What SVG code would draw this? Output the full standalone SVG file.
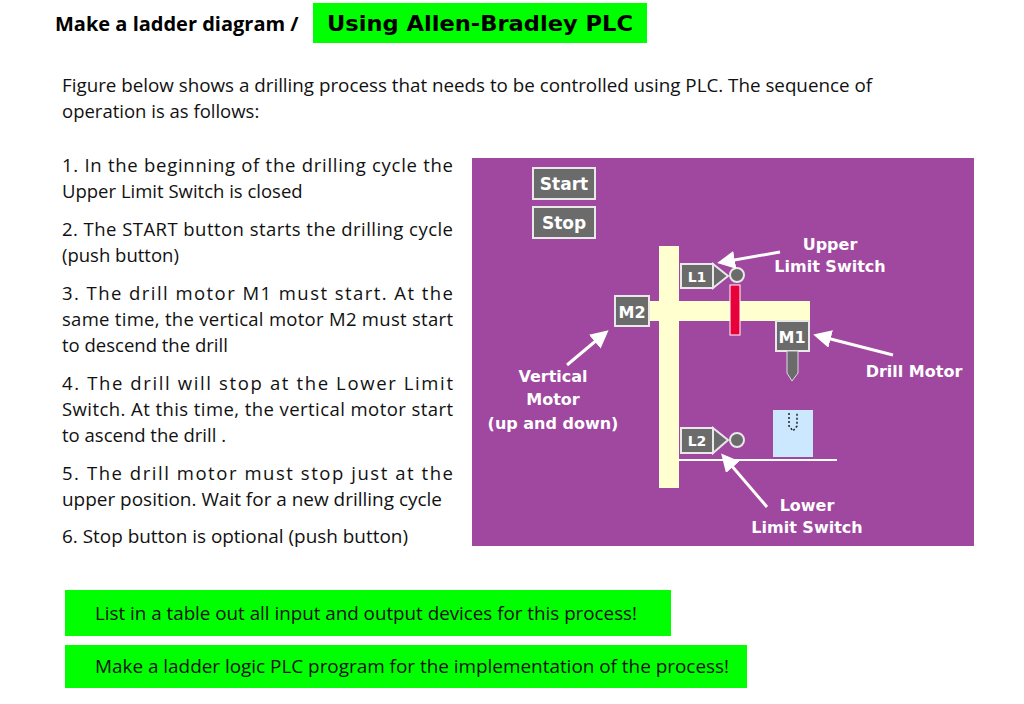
<svg xmlns="http://www.w3.org/2000/svg" width="1024" height="704" viewBox="0 0 1024 704">
<style>
.t{font-family:"Open Sans","Liberation Sans",sans-serif;font-size:18.5px;fill:#111}
.w{font-family:"DejaVu Sans",sans-serif;font-weight:bold;font-size:16px;fill:#fff;text-anchor:middle}
.gb{fill:#6b6b6b;stroke:#e8e8e8;stroke-width:2}
.bar{fill:#ffffd0}
.ar{stroke:#fff;stroke-width:3;fill:none;marker-end:url(#ah)}
</style>
<defs><marker id="ah" markerWidth="6" markerHeight="6" refX="4" refY="3" orient="auto"><path d="M0,0 L6,3 L0,6 z" fill="#fff"/></marker></defs>
<rect width="1024" height="704" fill="#fff"/>
<g id="title">
<text x="55" y="31" style="font-family:'Open Sans',sans-serif;font-weight:bold;font-size:20px">Make a ladder diagram /</text>
<rect x="313" y="3" width="334" height="40" fill="#00ff00"/>
<text x="327" y="31" textLength="306" lengthAdjust="spacingAndGlyphs" style="font-family:'DejaVu Sans',sans-serif;font-weight:bold;font-size:21px">Using Allen-Bradley PLC</text>
</g>
<g id="text">
<text class="t" x="62" y="92" textLength="810" lengthAdjust="spacingAndGlyphs">Figure below shows a drilling process that needs to be controlled using PLC. The sequence of</text>
<text class="t" x="62" y="118">operation is as follows:</text>
<text class="t" x="62" y="172" textLength="391" lengthAdjust="spacing">1. In the beginning of the drilling cycle the</text>
<text class="t" x="62" y="198">Upper Limit Switch is closed</text>
<text class="t" x="62" y="236" textLength="391" lengthAdjust="spacing">2. The START button starts the drilling cycle</text>
<text class="t" x="62" y="262">(push button)</text>
<text class="t" x="62" y="300" textLength="391" lengthAdjust="spacing">3. The drill motor M1 must start. At the</text>
<text class="t" x="62" y="326" textLength="391" lengthAdjust="spacing">same time, the vertical motor M2 must start</text>
<text class="t" x="62" y="352">to descend the drill</text>
<text class="t" x="62" y="390" textLength="391" lengthAdjust="spacing">4. The drill will stop at the Lower Limit</text>
<text class="t" x="62" y="416" textLength="391" lengthAdjust="spacing">Switch. At this time, the vertical motor start</text>
<text class="t" x="62" y="442">to ascend the drill .</text>
<text class="t" x="62" y="480" textLength="391" lengthAdjust="spacing">5. The drill motor must stop just at the</text>
<text class="t" x="62" y="506" textLength="380" lengthAdjust="spacingAndGlyphs">upper position. Wait for a new drilling cycle</text>
<text class="t" x="62" y="543" textLength="346" lengthAdjust="spacingAndGlyphs">6. Stop button is optional (push button)</text>
</g>
<g id="figure">
<rect x="472" y="158" width="502" height="388" fill="#a0479f"/>
<rect class="gb" x="533" y="168" width="62" height="31"/><text class="w" x="564" y="190" style="font-size:17px">Start</text>
<rect class="gb" x="533" y="207" width="62" height="31"/><text class="w" x="564" y="229" style="font-size:17px">Stop</text>
<rect class="bar" x="659" y="246" width="20" height="242"/>
<rect class="bar" x="649" y="301" width="161" height="20"/>
<rect class="gb" x="615" y="296" width="34" height="30"/><text class="w" x="632" y="318">M2</text>
<rect class="gb" x="681" y="264" width="32" height="24"/><text class="w" x="697" y="282" style="font-size:14px">L1</text>
<path d="M713,264 L728,276 L713,288 z" class="gb"/><circle cx="737" cy="275" r="7" class="gb"/>
<rect x="730" y="285" width="10" height="50" fill="#e8003a" stroke="#fff" stroke-width="1"/>
<rect class="gb" x="776" y="321" width="33" height="30"/><text class="w" x="792" y="343">M1</text>
<path d="M787,351 L798,351 L798,373 L792,381 L787,373 z" fill="#6b6b6b" stroke="#ddd"/>
<rect class="gb" x="681" y="428" width="32" height="25"/><text class="w" x="697" y="446" style="font-size:14px">L2</text>
<path d="M713,428 L728,440 L713,453 z" class="gb"/><circle cx="737" cy="440" r="7" class="gb"/>
<line x1="679" y1="460" x2="837" y2="460" stroke="#fff" stroke-width="2"/>
<rect x="773" y="410" width="40" height="47" fill="#cce8ff"/>
<path d="M789,413 L789,426 L793,431 L797,426 L797,413" fill="none" stroke="#222" stroke-width="1.5" stroke-dasharray="2,2"/>
<text class="w" x="830" y="250">Upper</text>
<text class="w" x="830" y="272">Limit Switch</text>
<text class="w" x="914" y="377">Drill Motor</text>
<text class="w" x="553" y="382">Vertical</text>
<text class="w" x="553" y="405">Motor</text>
<text class="w" x="553" y="429">(up and down)</text>
<text class="w" x="807" y="511">Lower</text>
<text class="w" x="807" y="533">Limit Switch</text>
</g>
<g id="connectors">
<line class="ar" x1="780" y1="252" x2="723" y2="262"/>
<line class="ar" x1="567" y1="365" x2="604" y2="334"/>
<line class="ar" x1="893" y1="355" x2="819" y2="336"/>
<line class="ar" x1="767" y1="507" x2="725" y2="458"/>
</g>
<g id="tasks">
<rect x="65" y="590" width="606" height="46" fill="#00ff00"/>
<text class="t" x="95" y="620" textLength="542" lengthAdjust="spacingAndGlyphs">List in a table out all input and output devices for this process!</text>
<rect x="65" y="645" width="682" height="43" fill="#00ff00"/>
<text class="t" x="95" y="673" textLength="634" lengthAdjust="spacingAndGlyphs">Make a ladder logic PLC program for the implementation of the process!</text>
</g>
</svg>
